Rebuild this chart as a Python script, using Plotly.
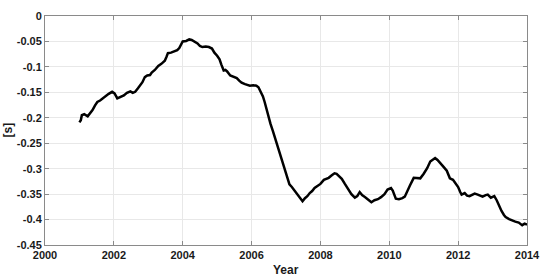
import plotly.graph_objects as go

years = [2001.00, 2001.04, 2001.07, 2001.14, 2001.24, 2001.31, 2001.38, 2001.45, 2001.52, 2001.60,
         2001.67, 2001.76, 2001.85, 2001.95, 2002.02, 2002.10, 2002.19, 2002.29, 2002.38, 2002.48,
         2002.55, 2002.62, 2002.70, 2002.76, 2002.83, 2002.90, 2002.97, 2003.05, 2003.10, 2003.19,
         2003.29, 2003.38, 2003.48, 2003.53, 2003.57, 2003.66, 2003.76, 2003.84, 2003.90, 2003.95,
         2004.00, 2004.10, 2004.19, 2004.26, 2004.33, 2004.43, 2004.50, 2004.57, 2004.67, 2004.76,
         2004.85, 2004.92, 2005.00, 2005.07, 2005.12, 2005.19, 2005.24, 2005.29, 2005.38, 2005.48,
         2005.57, 2005.64, 2005.71, 2005.81, 2005.95, 2006.05, 2006.14, 2006.20, 2006.26, 2006.33,
         2006.38, 2006.43, 2006.48, 2006.55, 2006.62, 2006.71, 2006.79, 2006.86, 2006.93, 2007.00,
         2007.05, 2007.10, 2007.17, 2007.24, 2007.33, 2007.40, 2007.48, 2007.55, 2007.62, 2007.69,
         2007.76, 2007.83, 2007.90, 2008.00, 2008.10, 2008.17, 2008.24, 2008.33, 2008.41, 2008.47,
         2008.52, 2008.62, 2008.71, 2008.80, 2008.90, 2009.00, 2009.07, 2009.14, 2009.21, 2009.30,
         2009.38, 2009.48, 2009.57, 2009.67, 2009.76, 2009.86, 2009.95, 2010.05, 2010.10, 2010.19,
         2010.28, 2010.38, 2010.45, 2010.52, 2010.60, 2010.71, 2010.80, 2010.90, 2011.00, 2011.10,
         2011.19, 2011.26, 2011.33, 2011.40, 2011.48, 2011.57, 2011.67, 2011.72, 2011.76, 2011.85,
         2011.90, 2012.00, 2012.06, 2012.10, 2012.19, 2012.26, 2012.33, 2012.40, 2012.48, 2012.57,
         2012.64, 2012.71, 2012.80, 2012.86, 2012.95, 2013.05, 2013.12, 2013.19, 2013.26, 2013.33,
         2013.38, 2013.48, 2013.57, 2013.66, 2013.76, 2013.86, 2013.93, 2014.00]

values = [-0.209, -0.205, -0.195, -0.193, -0.197, -0.192, -0.185, -0.176, -0.169, -0.166,
          -0.162, -0.158, -0.153, -0.149, -0.152, -0.162, -0.159, -0.156, -0.151, -0.148,
          -0.151, -0.149, -0.142, -0.137, -0.130, -0.120, -0.117, -0.116, -0.111, -0.106,
          -0.098, -0.094, -0.088, -0.080, -0.073, -0.072, -0.070, -0.067, -0.063, -0.055,
          -0.050, -0.049, -0.046, -0.047, -0.050, -0.054, -0.059, -0.061, -0.060, -0.061,
          -0.064, -0.072, -0.078, -0.085, -0.095, -0.107, -0.106, -0.109, -0.117, -0.119,
          -0.122, -0.127, -0.131, -0.134, -0.137, -0.136, -0.137, -0.140, -0.148, -0.158,
          -0.169, -0.182, -0.198, -0.212, -0.226, -0.245, -0.262, -0.277, -0.292, -0.306,
          -0.320, -0.331, -0.336, -0.342, -0.352, -0.358, -0.364, -0.358, -0.354, -0.348,
          -0.344, -0.338, -0.334, -0.330, -0.322, -0.320, -0.318, -0.313, -0.309, -0.310,
          -0.313, -0.320, -0.330, -0.340, -0.350, -0.357, -0.354, -0.346, -0.352, -0.356,
          -0.360, -0.366, -0.362, -0.360, -0.356, -0.350, -0.341, -0.338, -0.343, -0.359,
          -0.360, -0.358, -0.355, -0.346, -0.333, -0.318, -0.318, -0.319, -0.310, -0.299,
          -0.286, -0.282, -0.279, -0.283, -0.290, -0.296, -0.304, -0.313, -0.319, -0.322,
          -0.326, -0.336, -0.346, -0.351, -0.348, -0.353, -0.354, -0.352, -0.349, -0.351,
          -0.353, -0.355, -0.352, -0.351, -0.357, -0.354, -0.362, -0.373, -0.383, -0.391,
          -0.395, -0.399, -0.402, -0.404, -0.406, -0.411, -0.408, -0.410]

x_ticks = [2000, 2002, 2004, 2006, 2008, 2010, 2012, 2014]
x_tick_labels = ["2000", "2002", "2004", "2006", "2008", "2010", "2012", "2014"]
y_ticks = [0, -0.05, -0.1, -0.15, -0.2, -0.25, -0.3, -0.35, -0.4, -0.45]
y_tick_labels = ["0", "-0.05", "-0.1", "-0.15", "-0.2", "-0.25", "-0.3", "-0.35", "-0.4", "-0.45"]

FONT = "Liberation Sans"

fig = go.Figure()
fig.add_trace(go.Scatter(x=years, y=values, mode="lines",
                         line=dict(color="black", width=2.5), showlegend=False))

axis_common = dict(showline=True, linecolor="#8a8a8a", linewidth=1, mirror="ticks",
                   ticks="inside", ticklen=4, tickcolor="#8a8a8a",
                   showgrid=True, gridcolor="#e8e8e8", gridwidth=1, zeroline=False,
                   tickfont=dict(family=FONT, size=11, color="#1a1a1a", weight="bold"))

fig.update_xaxes(range=[2000, 2014], tickvals=x_ticks, ticktext=x_tick_labels, **axis_common)
fig.update_yaxes(range=[-0.45, 0], tickvals=y_ticks, ticktext=y_tick_labels, **axis_common)

fig.add_annotation(text="<b>Year</b>", xref="paper", yref="paper", x=0.5, y=0, yshift=-16,
                   showarrow=False, xanchor="center", yanchor="top",
                   font=dict(family=FONT, size=12, color="#1a1a1a"))
fig.add_annotation(text="<b>[s]</b>", xref="paper", yref="paper", x=0, xshift=-38, y=0.5,
                   showarrow=False, xanchor="center", yanchor="middle", textangle=-90,
                   font=dict(family=FONT, size=12, color="#1a1a1a"))

fig.update_layout(width=550, height=278, margin=dict(l=45, r=15, t=10, b=33),
                  paper_bgcolor="white", plot_bgcolor="white")

fig.write_html("out.html", config={"displayModeBar": False},
               post_script="document.body.style.margin='0';document.body.style.padding='0';")
